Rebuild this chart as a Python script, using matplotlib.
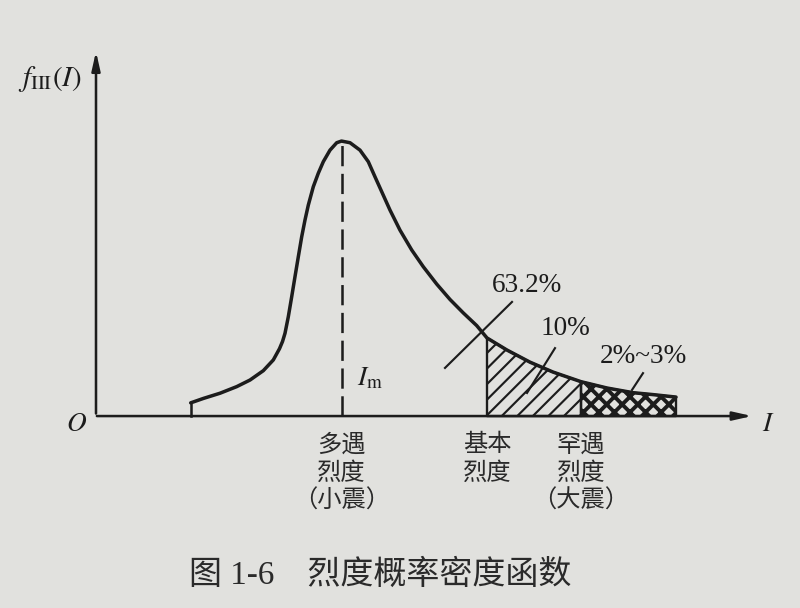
import numpy as np
import matplotlib
matplotlib.use('Agg')
import matplotlib.pyplot as plt

# density curve (intensity I, density f, peak = 1)
I = np.array([1.894, 2.146, 2.48, 2.814, 3.08, 3.346, 3.546, 3.67, 3.73, 3.78, 3.846,
              3.914, 3.98, 4.046, 4.114, 4.18, 4.246, 4.346, 4.446, 4.546, 4.68,
              4.814, 4.91, 5.08, 5.28, 5.446, 5.58, 5.714, 5.88, 6.08, 6.314,
              6.546, 6.814, 7.08, 7.346, 7.614, 7.82, 8.22, 8.68, 9.14, 9.70,
              10.22, 10.74, 11.14, 11.60])
f = np.array([0.048, 0.064, 0.083, 0.107, 0.131, 0.165, 0.204, 0.245, 0.271, 0.301, 0.361,
              0.434, 0.507, 0.579, 0.652, 0.713, 0.767, 0.834, 0.883, 0.925, 0.967,
              0.994, 1.000, 0.994, 0.967, 0.925, 0.870, 0.816, 0.749, 0.676, 0.604,
              0.543, 0.480, 0.424, 0.375, 0.329, 0.284, 0.240, 0.196, 0.160, 0.125,
              0.102, 0.085, 0.078, 0.069])

level_I = [4.91, 7.82, 9.70]
level_names = ['多遇\n烈度\n（小震）', '基本\n烈度', '罕遇\n烈度\n（大震）']
pct_text = ['63.2%', '10%', '2%~3%']
caption = '图 1-6    烈度概率密度函数'

bg = '#e1e1de'
ink = '#1c1c1c'
serif_cjk = ['Liberation Serif', 'Noto Sans CJK SC']
plt.rcParams['mathtext.fontset'] = 'stix'

fig = plt.figure(figsize=(800 / 140, 608 / 140), dpi=140)
fig.patch.set_facecolor(bg)
ax = fig.add_axes([0, 0, 1, 1])
ax.set_xlim(-1.92, 14.08)
ax.set_ylim(-0.698, 1.513)
ax.axis('off')

# axes with arrows
ax.annotate('', xy=(13.2, 0), xytext=(-0.06, 0),
            arrowprops=dict(arrowstyle='-|>,head_length=0.8,head_width=0.18', color=ink, lw=1.3))
ax.annotate('', xy=(0, 1.34), xytext=(0, -0.005),
            arrowprops=dict(arrowstyle='-|>,head_length=0.8,head_width=0.18', color=ink, lw=1.3))

# shaded tail regions
i_b = int(np.argmin(abs(I - level_I[1])))
i_r = int(np.argmin(abs(I - level_I[2])))
with plt.rc_context({'hatch.linewidth': 1.1}):
    ax.fill_between(I[i_b:i_r + 1], f[i_b:i_r + 1], 0, facecolor='none',
                    edgecolor=ink, hatch='///', linewidth=1.2)
with plt.rc_context({'hatch.linewidth': 2.0}):
    ax.fill_between(I[i_r:], f[i_r:], 0, facecolor='none',
                    edgecolor=ink, hatch='xxx', linewidth=1.2)

# curve
ax.plot(I, f, color=ink, lw=1.8, solid_capstyle='round', solid_joinstyle='round', zorder=5)
ax.plot([I[0], I[0]], [0, f[0]], color=ink, lw=1.3)
k = int(np.argmax(f))
ax.plot([I[k], I[k]], [0, f[k]], color=ink, lw=1.3, ls=(0, (8, 3)))

# leader lines and percentages
ax.plot([6.98, 8.32], [0.175, 0.415], color=ink, lw=1.1)
ax.plot([8.62, 9.18], [0.084, 0.247], color=ink, lw=1.1)
ax.plot([10.72, 10.94], [0.095, 0.156], color=ink, lw=1.1)
pct_xy = [(8.62, 0.476), (9.38, 0.32), (10.94, 0.215)]
for t, (x, y) in zip(pct_text, pct_xy):
    ax.text(x, y, t, ha='center', va='center', fontsize=14,
            family='Liberation Serif', color=ink)

ax.text(5.48, 0.138, r'$I_{\mathrm{m}}$', fontsize=14, ha='center', va='center', color=ink)
ax.text(-0.38, -0.03, r'$O$', fontsize=14, ha='center', va='center', color=ink)
ax.text(13.44, -0.03, r'$I$', fontsize=14, ha='center', va='center', color=ink)
ax.text(-0.92, 1.225, r'$f_{\mathrm{III}}(I)$', fontsize=15, ha='center', va='center', color=ink)

for x, name in zip(level_I, level_names):
    ax.text(x, -0.055, name, ha='center', va='top', fontsize=12.5, linespacing=1.12,
            family='Noto Sans CJK SC', color='#2a2a2a')

fig.text(0.475, 0.054, caption, ha='center', va='center', fontsize=17,
         family=serif_cjk, color='#2a2a2a')

fig.savefig('out.png', dpi=140, facecolor=bg)
